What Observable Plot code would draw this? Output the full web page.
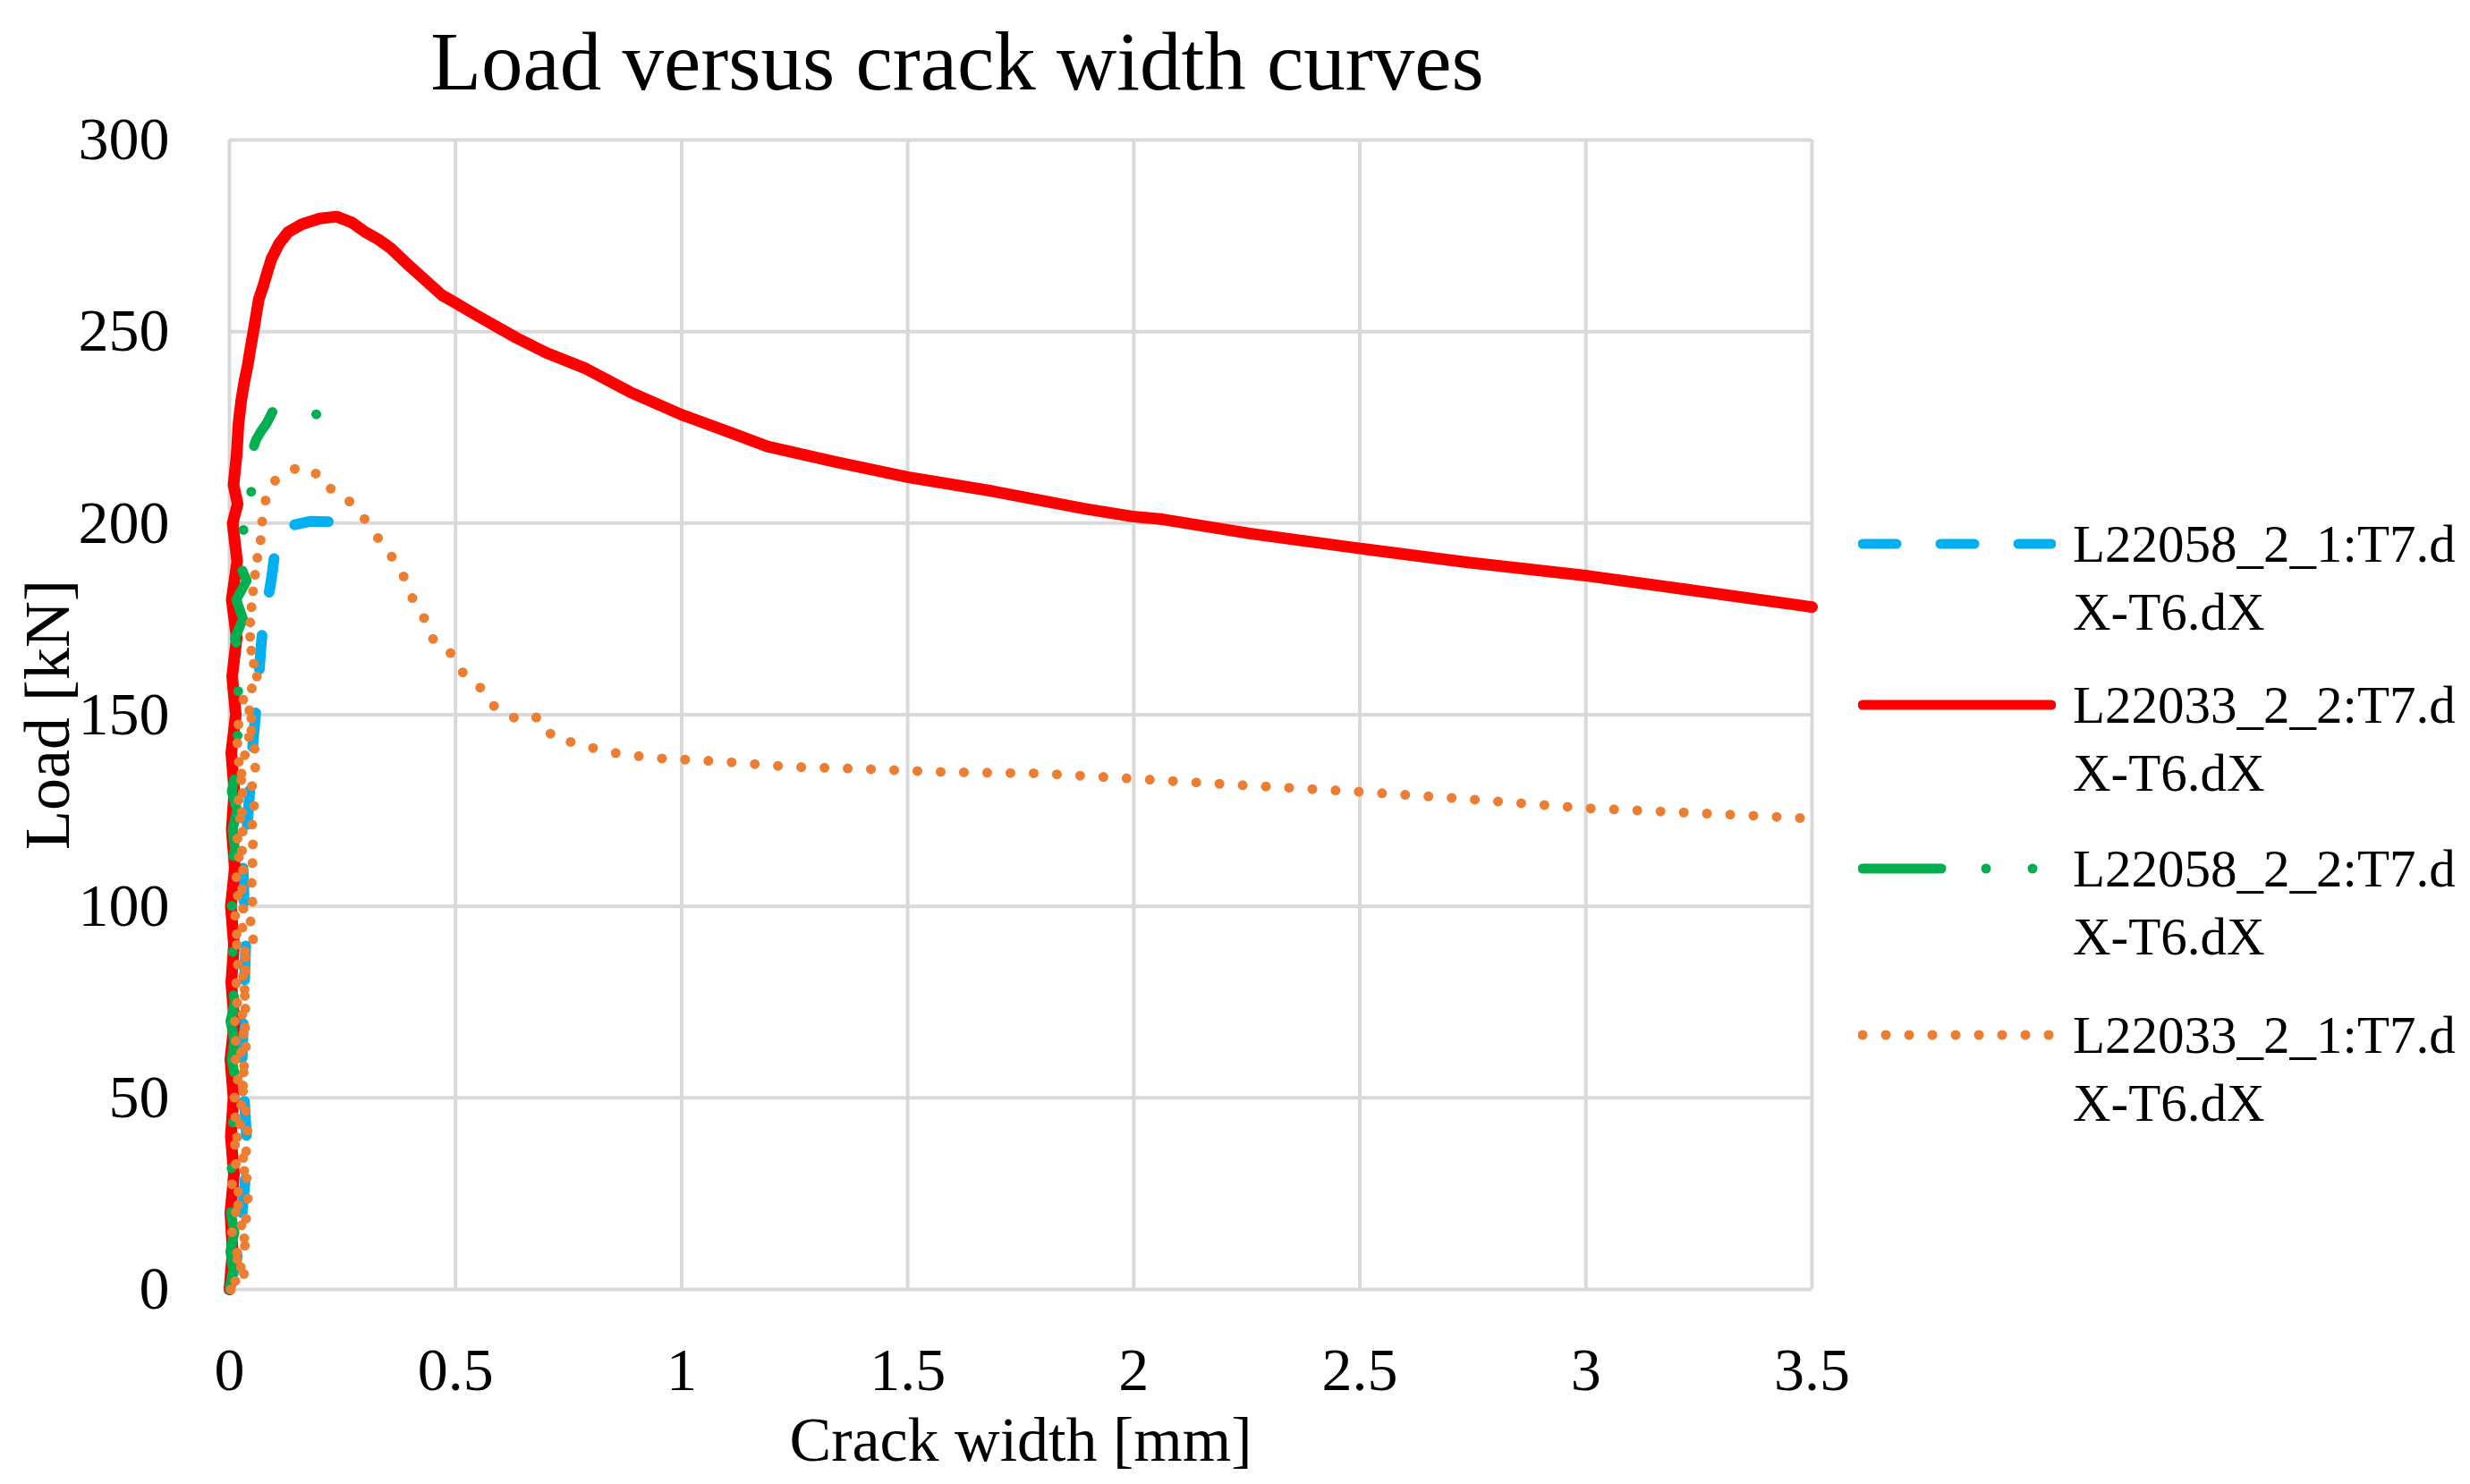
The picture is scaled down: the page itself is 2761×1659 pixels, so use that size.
<!DOCTYPE html>
<html>
<head>
<meta charset="utf-8">
<script src="https://cdn.jsdelivr.net/npm/d3@7"></script>
<script src="https://cdn.jsdelivr.net/npm/@observablehq/plot@0.6"></script>
<style>
  body { margin: 0; background: #fff; }
  #wrap { position: relative; width: 2761px; height: 1659px; background: #fff;
          font-family: "Liberation Serif", "DejaVu Serif", serif; color: #000; overflow: hidden; }
  #title { position: absolute; left: 1070px; top: 22px; transform: translateX(-50%); z-index: 2;
           font-size: 93px; line-height: 93px; white-space: nowrap; }
  #plot { position: absolute; left: 0; top: 90px; z-index: 1; }
  #legend { position: absolute; left: 2077px; top: 0; z-index: 2; }
  .item { position: absolute; left: 0; width: 684px; height: 152px; }
  .item svg { position: absolute; left: 0; top: 28px; }
  .item .lab { position: absolute; left: 240px; top: 0; font-size: 59px; line-height: 76px; white-space: nowrap; }
</style>
</head>
<body>
<div id="wrap">
  <div id="plot"></div>
  <div id="title">Load versus crack width curves</div>
  <div id="legend"></div>
</div>
<script>
// ---- Tick values ----
const xTicks = [0, 0.5, 1, 1.5, 2, 2.5, 3, 3.5];
const yTicks = [0, 50, 100, 150, 200, 250, 300];

// ---- Series names ----
const seriesNames = ["L22058_2_1:T7.dX-T6.dX", "L22033_2_2:T7.dX-T6.dX", "L22058_2_2:T7.dX-T6.dX", "L22033_2_1:T7.dX-T6.dX"];

// ---- L22058_2_1 (blue, dashed) ----
const blueX = [0.000, 0.020, 0.040, 0.028, 0.036, 0.030, 0.042, 0.050, 0.063, 0.070, 0.075, 0.085, 0.093, 0.100, 0.103, 0.120, 0.138, 0.180, 0.250, 0.290, 0.305];
const blueY = [0, 10, 35, 60, 90, 110, 125, 140, 157, 168, 175, 180, 185.6, 192, 195.4, 198.5, 199.4, 200.5, 200.3, 199.8, 199];

// ---- L22033_2_2 (red, solid) ----
const redX = [0, 0.007, 0.002, 0.010, 0.003, 0.009, 0.002, 0.011, 0.004, 0.010, 0.003, 0.012, 0.005, 0.011, 0.004, 0.014, 0.006, 0.016, 0.005, 0.017, 0.007, 0.018, 0.009, 0.016, 0.020, 0.026, 0.033, 0.040, 0.047, 0.053, 0.060, 0.065, 0.075, 0.085, 0.093, 0.110, 0.130, 0.160, 0.200, 0.237, 0.270, 0.300, 0.330, 0.356, 0.390, 0.420, 0.470, 0.500, 0.550, 0.634, 0.700, 0.785, 0.886, 1.000, 1.100, 1.190, 1.340, 1.500, 1.690, 1.890, 2.000, 2.064, 2.256, 2.500, 2.735, 3.000, 3.215, 3.500];
const redY = [0, 10, 20, 30, 40, 50, 60, 70, 80, 90, 100, 110, 120, 130, 140, 150, 160, 170, 180, 190, 200, 205, 210, 218, 226, 232, 237, 241, 246, 250, 255, 258.5, 262, 266, 269, 273, 276, 278, 279.5, 280, 278.5, 276, 274, 271.8, 268, 264.8, 259.5, 257.5, 254, 248.4, 244.5, 240.5, 234.2, 228.3, 224, 220, 216, 212, 208.3, 203.8, 201.7, 201, 197.3, 193.4, 189.8, 186.3, 182.8, 178.1];

// ---- L22058_2_2 (green, long dash dot dot) ----
const greenX = [0.000, 0.008, 0.002, 0.011, 0.003, 0.010, 0.001, 0.012, 0.004, 0.009, 0.002, 0.013, 0.005, 0.011, 0.002, 0.012, 0.004, 0.014, 0.003, 0.010, 0.005, 0.015, 0.004, 0.012, 0.007, 0.017, 0.005, 0.014, 0.008, 0.019, 0.007, 0.022, 0.010, 0.025, 0.012, 0.030, 0.015, 0.038, 0.020, 0.042, 0.025, 0.048, 0.034, 0.053, 0.040, 0.056, 0.048, 0.059, 0.070, 0.082, 0.095, 0.192];
const greenY = [0, 5, 10, 15, 20, 25, 30, 35, 40, 45, 50, 55, 60, 65, 70, 75, 80, 85, 90, 95, 100, 105, 110, 115, 120, 125, 130, 135, 140, 145, 150, 155, 160, 165, 170, 175, 180, 185, 190, 195, 200, 203, 206, 209, 212, 215, 218, 221.8, 224, 226, 229, 228.4];

// ---- L22033_2_1 (orange, dotted) ----
const orangeX = [
  0.003, 0.032, 0.006, 0.040, 0.004, 0.036, 0.008, 0.042, 0.005, 0.038, 0.009, 0.044, 0.004, 0.039, 0.007, 0.046, 0.010, 0.041, 0.005, 0.043,
  0.008, 0.037, 0.004, 0.045, 0.011, 0.040, 0.006, 0.047, 0.009, 0.042, 0.005, 0.039, 0.010, 0.046, 0.007, 0.043, 0.012, 0.048, 0.006, 0.041,
  0.009, 0.045, 0.005, 0.049, 0.011, 0.042, 0.007, 0.047, 0.013, 0.044, 0.006, 0.050, 0.010, 0.043, 0.008, 0.048, 0.012, 0.045, 0.007, 0.051,
  0.011, 0.044, 0.009, 0.049, 0.014, 0.046, 0.008, 0.052, 0.012, 0.045, 0.010, 0.050, 0.015, 0.058, 0.009, 0.047, 0.013, 0.053, 0.011, 0.046,
  0.016, 0.051, 0.010, 0.048, 0.014, 0.054, 0.012, 0.047, 0.017, 0.052, 0.011, 0.049, 0.015, 0.055, 0.013, 0.048, 0.018, 0.053, 0.012, 0.050,
  0.016, 0.056, 0.014, 0.049, 0.019, 0.054, 0.013, 0.051, 0.017, 0.058, 0.015, 0.052, 0.020, 0.060, 0.016, 0.055, 0.021, 0.059, 0.018, 0.057,
  0.022, 0.060, 0.030, 0.062, 0.033, 0.061, 0.036, 0.063, 0.039, 0.064, 0.042, 0.065, 0.045, 0.066, 0.048, 0.067, 0.050, 0.068, 0.052, 0.069,
  0.054, 0.070, 0.057, 0.072, 0.060, 0.074, 0.066, 0.077,
  0.085, 0.100, 0.119, 0.140, 0.164, 0.190, 0.204, 0.210, 0.247, 0.280, 0.313, 0.340, 0.370, 0.392, 0.409, 0.435, 0.447, 0.484, 0.500, 0.527,
  0.553, 0.573, 0.603, 0.644, 0.684, 0.700, 0.714, 0.765, 0.835, 0.937, 1.087, 1.240, 1.390, 1.590, 1.790, 2.000, 2.256, 2.500, 2.735, 3.000,
  3.215, 3.500];
const orangeY = [
  0, 1.25, 2.5, 3.75, 5, 6.25, 7.5, 8.75, 10, 11.25, 12.5, 13.75, 15, 16.25, 17.5, 18.75, 20, 21.25, 22.5, 23.75,
  25, 26.25, 27.5, 28.75, 30, 31.25, 32.5, 33.75, 35, 36.25, 37.5, 38.75, 40, 41.25, 42.5, 43.75, 45, 46.25, 47.5, 48.75,
  50, 51.25, 52.5, 53.75, 55, 56.25, 57.5, 58.75, 60, 61.25, 62.5, 63.75, 65, 66.25, 67.5, 68.75, 70, 71.25, 72.5, 73.75,
  75, 76.25, 77.5, 78.75, 80, 81.25, 82.5, 83.75, 85, 86.25, 87.5, 88.75, 90, 91.25, 92.5, 93.75, 95, 96.25, 97.5, 98.75,
  100, 101.25, 102.5, 103.75, 105, 106.25, 107.5, 108.75, 110, 111.25, 112.5, 113.75, 115, 116.25, 117.5, 118.75, 120, 121.25, 122.5, 123.75,
  125, 126.25, 127.5, 128.75, 130, 131.25, 132.5, 133.75, 135, 136.25, 137.5, 138.75, 140, 141.25, 142.5, 143.75, 145, 146.25, 147.5, 148.75,
  150, 152, 154, 156, 158, 160, 162, 164, 166, 168, 170, 172, 174, 176, 178, 180, 182, 184, 186, 188,
  190, 192, 194, 196, 198, 200, 202, 204,
  209.4, 211, 213, 214, 214.8, 213, 212, 209.6, 208, 203.8, 199, 194, 189.6, 184.5, 179, 174.4, 170, 167.4, 163, 159.7,
  157.4, 153.4, 150.6, 148.5, 149.4, 147.6, 144, 142.6, 140.3, 138.7, 137.8, 136.4, 135.9, 135, 134.7, 133.3, 131.5, 129.9, 128, 125.6,
  124.5, 122.9];

// ---- Build tables ----
const toRows = (xs, ys) => xs.map((x, i) => ({x, y: ys[i]}));
const blue = toRows(blueX, blueY);
const red = toRows(redX, redY);
const green = toRows(greenX, greenY);
const orange = toRows(orangeX, orangeY);

const styles = [
  {stroke: "#00B0F0", strokeWidth: 12, strokeDasharray: "38,49"},
  {stroke: "#FF0000", strokeWidth: 13, strokeDasharray: null},
  {stroke: "#00B050", strokeWidth: 11, strokeDasharray: "88,50,0,52,0,57"},
  {stroke: "#ED7D31", strokeWidth: 11, strokeDasharray: "0,26"}
];

const lineOpts = (s) => {
  const o = {x: "x", y: "y", stroke: s.stroke, strokeWidth: s.strokeWidth, strokeLinecap: "round", strokeLinejoin: "round"};
  if (s.strokeDasharray) o.strokeDasharray = s.strokeDasharray;
  return o;
};

// green: the last recorded point is isolated from the rest of the curve
const greenMain = green.filter(d => d.x < 0.15);
const greenLone = green.filter(d => d.x >= 0.15);

const chart = Plot.plot({
  width: 2761,
  height: 1569,
  marginTop: 66,
  marginBottom: 218,
  marginLeft: 256,
  marginRight: 736,
  x: {domain: [0, 3.5]},
  y: {domain: [0, 300]},
  style: {fontFamily: "'Liberation Serif', 'DejaVu Serif', serif", fontSize: "68px", color: "#000", background: "transparent", overflow: "visible"},
  marks: [
    Plot.gridX(xTicks, {stroke: "#D9D9D9", strokeOpacity: 1, strokeWidth: 4}),
    Plot.gridY(yTicks, {stroke: "#D9D9D9", strokeOpacity: 1, strokeWidth: 4}),
    Plot.axisX(xTicks, {tickSize: 0, tickPadding: 64, tickFormat: d => String(d), fontSize: 68, label: null}),
    Plot.axisY(yTicks, {tickSize: 0, tickPadding: 67, tickFormat: d => String(d), fontSize: 68, label: null}),
    Plot.line(blue, lineOpts(styles[0])),
    Plot.line(red, lineOpts(styles[1])),
    Plot.line(greenMain, lineOpts(styles[2])),
    Plot.dot(greenLone, {x: "x", y: "y", r: 5.5, fill: styles[2].stroke, stroke: null}),
    Plot.line(orange, lineOpts(styles[3])),
    Plot.text(["Load [kN]"], {frameAnchor: "left", dx: -203, rotate: -90, textAnchor: "middle", lineAnchor: "middle", fontSize: 72, fill: "#000"}),
    Plot.text(["Crack width [mm]"], {frameAnchor: "bottom", dy: 169, textAnchor: "middle", lineAnchor: "middle", fontSize: 70, fill: "#000"})
  ]
});
document.getElementById("plot").appendChild(chart);

// ---- Legend ----
const legendRowY = [608, 788, 971, 1157];
const legend = document.getElementById("legend");
seriesNames.forEach((name, i) => {
  const s = styles[i];
  const item = document.createElement("div");
  item.className = "item";
  item.style.top = (legendRowY[i] - 38) + "px";
  const dash = s.strokeDasharray ? `stroke-dasharray="${s.strokeDasharray}"` : "";
  item.innerHTML =
    `<svg width="221" height="20" viewBox="0 0 221 20"><line x1="5" y1="10" x2="216" y2="10" stroke="${s.stroke}" stroke-width="${Math.min(s.strokeWidth, 11)}" stroke-linecap="round" ${dash}/></svg>` +
    `<div class="lab">${name.slice(0, 15)}<br>${name.slice(15)}</div>`;
  legend.appendChild(item);
});
</script>
</body>
</html>
